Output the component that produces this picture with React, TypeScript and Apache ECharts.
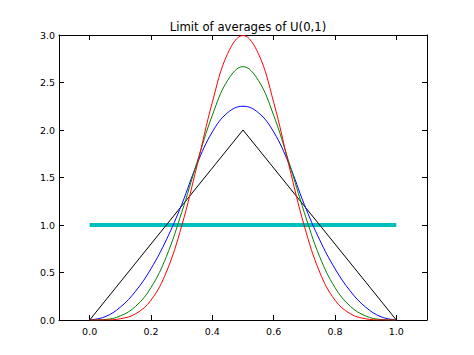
import React, { useEffect, useRef } from "react";
import * as echarts from "echarts";

const xTicks = [0, 0.2, 0.4, 0.6, 0.8, 1.0];
const yTicks = [0, 0.5, 1.0, 1.5, 2.0, 2.5, 3.0];
const xs = [0, 0.05, 0.1, 0.15, 0.2, 0.25, 0.3, 0.35, 0.4, 0.45, 0.5, 0.55, 0.6, 0.65, 0.7, 0.75, 0.8, 0.85, 0.9, 0.95, 1.0];

const uniformX = [0, 1];
const uniformY = [1, 1];
const triX = [0, 0.5, 1];
const triY = [0, 2, 0];
const n3 = [0, 0.0338, 0.135, 0.3038, 0.54, 0.8438, 1.215, 1.6425, 1.98, 2.1825, 2.25, 2.1825, 1.98, 1.6425, 1.215, 0.8438, 0.54, 0.3038, 0.135, 0.0338, 0];
const n4 = [0, 0.0053, 0.0427, 0.144, 0.3413, 0.6667, 1.1307, 1.6587, 2.1547, 2.5227, 2.6667, 2.5227, 2.1547, 1.6587, 1.1307, 0.6667, 0.3413, 0.144, 0.0427, 0.0053, 0];
const n5 = [0, 0.0008, 0.013, 0.0659, 0.2083, 0.5046, 0.9896, 1.6243, 2.2917, 2.8044, 2.9948, 2.8044, 2.2917, 1.6243, 0.9896, 0.5046, 0.2083, 0.0659, 0.013, 0.0008, 0];

const pair = (a: number[], b: number[]) => a.map((x, i) => [x, b[i]]);

export default function App() {
  const ref = useRef<HTMLDivElement>(null);
  useEffect(() => {
    const chart = echarts.init(ref.current!, null, { renderer: "svg" });
    const font = "DejaVu Sans";
    const axisLine = { show: true, onZero: false, lineStyle: { color: "#000", width: 1 } };
    const tick = { show: true, inside: true, length: 5, lineStyle: { color: "#000" } };
    chart.setOption({
      animation: false,
      backgroundColor: "#fff",
      title: {
        text: "Limit of averages of U(0,1)",
        left: 243,
        top: 16,
        textAlign: "center",
        textStyle: { fontFamily: font, fontSize: 11.7, fontWeight: "normal", color: "#000" },
      },
      grid: { left: 59, top: 35, right: 47, bottom: 35 },
      xAxis: [
        {
          type: "value", min: -0.1, max: 1.1, position: "bottom",
          axisLine, splitLine: { show: false },
          axisTick: { ...tick, customValues: xTicks },
          axisLabel: { customValues: xTicks, formatter: (v: number) => v.toFixed(1), fontFamily: font, fontSize: 9.5, color: "#000", margin: 6 },
        },
        {
          type: "value", min: -0.1, max: 1.1, position: "top",
          axisLine, splitLine: { show: false },
          axisTick: { ...tick, customValues: xTicks },
          axisLabel: { show: false },
        },
      ],
      yAxis: [
        {
          type: "value", min: 0, max: 3, interval: 0.5, position: "left",
          axisLine, splitLine: { show: false }, axisTick: { ...tick, customValues: yTicks },
          axisLabel: { customValues: yTicks, formatter: (v: number) => v.toFixed(1), fontFamily: font, fontSize: 9.5, color: "#000", margin: 4 },
        },
        {
          type: "value", min: 0, max: 3, interval: 0.5, position: "right",
          axisLine, splitLine: { show: false }, axisTick: { ...tick, customValues: yTicks }, axisLabel: { show: false },
        },
      ],
      series: [
        { type: "line", data: pair(uniformX, uniformY), showSymbol: false, lineStyle: { color: "#00bfbf", width: 4 }, z: 2 },
        { type: "line", data: pair(triX, triY), showSymbol: false, lineStyle: { color: "#000", width: 1 } },
        { type: "line", data: pair(xs, n3), showSymbol: false, smooth: 0.4, lineStyle: { color: "#0000ff", width: 1 } },
        { type: "line", data: pair(xs, n4), showSymbol: false, smooth: 0.4, lineStyle: { color: "#008000", width: 1 } },
        { type: "line", data: pair(xs, n5), showSymbol: false, smooth: 0.4, lineStyle: { color: "#ff0000", width: 1 } },
      ],
    });
    return () => chart.dispose();
  }, []);
  return <div ref={ref} style={{ position: "absolute", left: 0, top: 0, width: 474, height: 355 }} />;
}
